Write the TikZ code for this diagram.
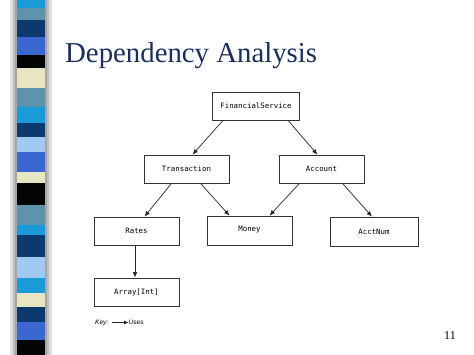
\documentclass[tikz,border=0pt]{standalone}
\usepackage{fontspec}
\setmainfont{Liberation Serif}
\newfontfamily\boxfont{DejaVu Sans Mono}
\newfontfamily\keyfont{Liberation Sans}
\usetikzlibrary{arrows.meta,calc}
\definecolor{titleblue}{HTML}{1B2F5C}
\definecolor{sA}{HTML}{1A9AD6}
\definecolor{sB}{HTML}{5E93AE}
\definecolor{sC}{HTML}{0C3A6E}
\definecolor{sD}{HTML}{3B68D0}
\definecolor{sE}{HTML}{050505}
\definecolor{sF}{HTML}{E8E6C2}
\definecolor{sG}{HTML}{A2C9F2}
\tikzset{
  cls/.style={draw=black!80, line width=0.7pt, minimum width=85pt, minimum height=28pt, inner sep=0pt, font=\boxfont\fontsize{7.4}{8}\selectfont},
  uses/.style={-{Latex[length=5.5pt,width=4.5pt]}, line width=0.7pt, draw=black!85}
}
\begin{document}
\begin{tikzpicture}[x=1pt,y=-1pt]
\useasboundingbox (0,0) rectangle (474,355);
\fill[white] (0,0) rectangle (474,355);
% shadow of the stripe bar
\fill[black!12] (10,0) rectangle (52,355);
\fill[black!25] (13,0) rectangle (49,355);
\fill[black!35] (15,0) rectangle (47,355);
% stripes
\foreach \ya/\yb/\c in {0/8/sA,8/20/sB,20/37/sC,37/55/sD,55/68/sE,68/88/sF,88/107/sB,107/123/sA,123/137/sC,137/152/sG,152/172/sD,172/183/sF,183/205/sE,205/225/sB,225/235/sA,235/257/sC,257/278/sG,278/293/sA,293/307/sF,307/322/sC,322/340/sD,340/355/sE}
  \fill[\c] (17,\ya) rectangle (45,\yb);
% title
\node[anchor=base west, inner sep=0pt, text=titleblue, font=\fontsize{28.8}{32}\selectfont] (title) at (65,63) {Dependency Analysis};
% classes
\node[cls, minimum width=87pt] (fs) at (256,106) {FinancialService};
\node[cls] (tr) at (186.5,169) {Transaction};
\node[cls] (ac) at (321.5,169) {Account};
\node[cls] (ra) at (136.5,231) {Rates};
\node[cls, minimum height=29pt, text depth=4pt] (mo) at (249.5,230.5) {Money};
\node[cls, minimum width=88pt, minimum height=29pt] (an) at (374,231.5) {AcctNum};
\node[cls] (ar) at (136.5,292) {Array[Int]};
% dependencies
\draw[uses] ($(fs.south)+(-33,0)$) -- ($(tr.north)+(6,0)$);
\draw[uses] ($(fs.south)+(32,0)$) -- ($(ac.north)+(-4,0)$);
\draw[uses] ($(tr.south)+(-15,0)$) -- ($(ra.north)+(8,0)$);
\draw[uses] ($(tr.south)+(14,0)$) -- ($(mo.north)+(-20,0)$);
\draw[uses] ($(ac.south)+(-22,0)$) -- ($(mo.north)+(20,0)$);
\draw[uses] ($(ac.south)+(21,0)$) -- ($(an.north)+(-2,0)$);
\draw[uses] ($(ra.south)+(-1.5,0)$) -- ($(ar.north)+(-1.5,0)$);
% key
\node[anchor=base west, inner sep=0pt, font=\keyfont\itshape\fontsize{6.5}{7}\selectfont] (key) at (95,324.5) {Key:};
\coordinate (ks) at (112,322.5);
\node[anchor=base west, inner sep=0pt, font=\keyfont\fontsize{6.5}{7}\selectfont] (usesl) at (128.5,324.5) {Uses};
\draw[uses, line width=0.6pt, -{Latex[length=4.5pt,width=4pt]}] (ks) -- (usesl.west |- ks);
% page number
\node[anchor=base east, inner sep=0pt, font=\fontsize{12}{14}\selectfont] (pg) at (456,340) {11};
\end{tikzpicture}
\end{document}
